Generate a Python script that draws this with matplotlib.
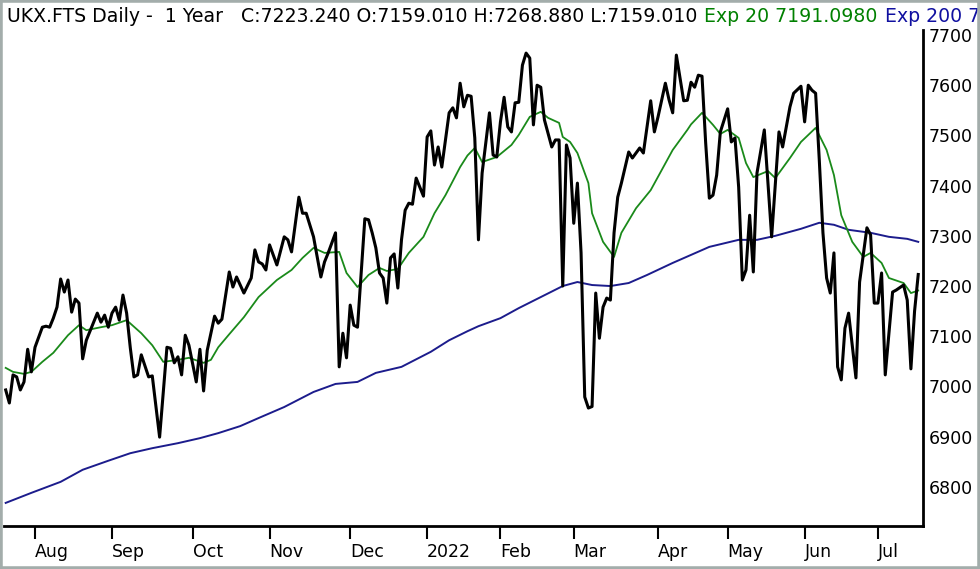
import matplotlib
matplotlib.use("Agg")
import matplotlib.pyplot as plt
from matplotlib.patches import Rectangle
import numpy as np
import pandas as pd

# trading calendar (LSE), first and last session shown
start_date = "2021-07-21"
end_date = "2022-07-18"
holidays = ["2021-08-30", "2021-12-27", "2021-12-28", "2022-01-03", "2022-04-15",
            "2022-04-18", "2022-05-02", "2022-06-02", "2022-06-03"]

# UKX daily close (session index, value)
price_day = [0, 1, 2, 3, 4, 5, 6, 7, 8, 10, 11, 12, 13, 14, 15, 16, 17, 18, 19, 20,
             21, 22, 25, 26, 27, 28, 29, 30, 31, 32, 33, 34, 35, 36, 37, 39, 40, 42, 44, 45,
             46, 47, 48, 49, 50, 52, 53, 54, 55, 57, 58, 59, 61, 62, 63, 65, 67, 68, 69, 70,
             71, 72, 74, 76, 77, 78, 80, 81, 82, 84, 86, 87, 88, 90, 91, 92, 93, 94, 95, 96,
             98, 99, 100, 101, 102, 103, 104, 105, 106, 107, 108, 109, 110, 111, 112, 114, 115, 116, 117, 118,
             119, 121, 122, 123, 124, 125, 126, 127, 128, 129, 130, 132, 133, 134, 135, 136, 137, 138, 139, 140,
             141, 142, 143, 144, 145, 146, 147, 149, 150, 151, 152, 153, 154, 155, 156, 157, 158, 159, 160, 161,
             162, 163, 164, 165, 166, 167, 168, 170, 171, 172, 173, 174, 176, 177, 178, 180, 181, 182, 183, 185,
             186, 187, 188, 189, 190, 191, 192, 193, 194, 195, 197, 198, 199, 200, 201, 202, 203, 204, 205, 207,
             209, 211, 212, 214, 215, 217, 218, 219, 220, 221, 222, 223, 224, 225, 226, 227, 228, 229, 230, 232,
             233, 235, 236, 237, 238, 239, 240, 242, 243, 245, 246, 247, 248, 249]
price_close = [6993, 6967, 7023, 7019, 6993, 7009, 7074, 7029, 7078, 7118, 7120, 7118, 7136, 7158, 7214, 7188, 7212, 7148, 7174, 7166,
               7055, 7092, 7146, 7128, 7142, 7118, 7146, 7158, 7132, 7182, 7146, 7077, 7019, 7023, 7063, 7019, 7021, 6899, 7078, 7076,
               7047, 7059, 7023, 7102, 7082, 7009, 7074, 6991, 7072, 7140, 7126, 7134, 7228, 7198, 7218, 7186, 7216, 7272, 7248, 7244,
               7232, 7282, 7242, 7298, 7292, 7268, 7377, 7345, 7345, 7298, 7218, 7248, 7266, 7306, 7039, 7106, 7057, 7162, 7122, 7118,
               7334, 7332, 7306, 7276, 7226, 7216, 7166, 7256, 7264, 7196, 7292, 7351, 7365, 7363, 7415, 7379, 7497, 7509, 7441, 7477,
               7437, 7545, 7555, 7535, 7604, 7557, 7580, 7578, 7495, 7292, 7425, 7545, 7461, 7457, 7527, 7576, 7517, 7507, 7565, 7566,
               7640, 7664, 7654, 7521, 7600, 7596, 7531, 7477, 7491, 7491, 7200, 7481, 7455, 7325, 7405, 7266, 6979, 6957, 6960, 7186,
               7096, 7158, 7176, 7172, 7306, 7377, 7405, 7467, 7455, 7465, 7475, 7465, 7569, 7507, 7537, 7604, 7571, 7545, 7660, 7569,
               7570, 7606, 7596, 7620, 7618, 7485, 7375, 7381, 7421, 7507, 7553, 7487, 7495, 7397, 7212, 7232, 7341, 7228, 7425, 7511,
               7298, 7507, 7477, 7557, 7584, 7598, 7527, 7600, 7590, 7584, 7451, 7306, 7216, 7186, 7266, 7039, 7013, 7116, 7146, 7017,
               7208, 7316, 7302, 7166, 7166, 7226, 7023, 7188, 7192, 7202, 7172, 7035, 7150, 7223]

# Exp 20
ema20_day = [0, 2, 5, 7, 10, 13, 17, 20, 22, 26, 29, 33, 37, 40, 43, 47, 50, 54, 56, 58,
             61, 65, 69, 74, 78, 81, 84, 87, 91, 93, 96, 99, 102, 104, 107, 110, 114, 117, 120, 124,
             126, 128, 130, 134, 138, 140, 143, 146, 148, 151, 152, 154, 156, 159, 160, 163, 166, 168, 172, 176,
             179, 182, 186, 187, 190, 193, 195, 197, 200, 202, 204, 208, 210, 214, 217, 221, 224, 226, 228, 231,
             234, 236, 239, 241, 245, 247, 249]
ema20_val = [7037, 7029, 7025, 7029, 7049, 7067, 7102, 7122, 7112, 7118, 7122, 7132, 7106, 7082, 7049, 7053, 7057, 7047, 7053, 7078,
             7104, 7138, 7178, 7212, 7232, 7256, 7276, 7266, 7268, 7226, 7198, 7222, 7236, 7230, 7234, 7266, 7298, 7345, 7381, 7437,
             7460, 7475, 7447, 7457, 7481, 7501, 7537, 7547, 7535, 7525, 7497, 7487, 7465, 7405, 7345, 7288, 7258, 7306, 7355, 7391,
             7431, 7471, 7511, 7522, 7545, 7521, 7503, 7511, 7495, 7445, 7417, 7429, 7415, 7455, 7487, 7515, 7471, 7421, 7341, 7288,
             7258, 7266, 7246, 7216, 7206, 7186, 7191]

# Exp 200
ema200_day = [0, 7, 15, 21, 28, 34, 40, 47, 53, 58, 64, 69, 76, 84, 90, 96, 101, 108, 116, 121,
              126, 129, 135, 140, 146, 152, 156, 160, 165, 170, 175, 182, 187, 192, 200, 205, 210, 217, 222, 226,
              230, 236, 241, 246, 249]
ema200_val = [6768, 6788, 6810, 6834, 6852, 6867, 6877, 6887, 6897, 6907, 6921, 6937, 6959, 6989, 7005, 7009, 7027, 7039, 7069, 7092,
              7110, 7120, 7136, 7156, 7178, 7200, 7208, 7202, 7200, 7206, 7222, 7246, 7262, 7278, 7292, 7292, 7300, 7314, 7326, 7322,
              7312, 7306, 7298, 7294, 7288]

y_ticks = [6800, 6900, 7000, 7100, 7200, 7300, 7400, 7500, 7600, 7700]
header_parts = [("UKX.FTS Daily -  1 Year   C:7223.240 O:7159.010 H:7268.880 L:7159.010", "black"),
                ("Exp 20 7191.0980", "#008000"),
                ("Exp 200 7", "#1010a0")]

dates = pd.bdate_range(start_date, end_date)
dates = dates[~dates.isin(pd.to_datetime(holidays))]

# first session of each month -> tick
tick_pos, tick_lab = [], []
for i in range(1, len(dates)):
    if dates[i].month != dates[i - 1].month:
        tick_pos.append(i)
        tick_lab.append("2022" if dates[i].month == 1 else dates[i].strftime("%b"))

W, H = 980, 569
fig = plt.figure(figsize=(W / 100, H / 100), dpi=100)
ax = fig.add_axes([4 / W, 43 / H, 919 / W, 496 / H])

ax.plot(ema200_day, ema200_val, color="#1c1c8c", lw=1.4)
ax.plot(ema20_day, ema20_val, color="#1a8a1a", lw=1.3)
ax.plot(price_day, price_close, color="black", lw=2.2)

ax.set_xlim(-0.46, 250.3)
ax.set_ylim(6722, 7710)

for s in ["left", "top"]:
    ax.spines[s].set_visible(False)
for s in ["right", "bottom"]:
    ax.spines[s].set_linewidth(2)

ax.yaxis.tick_right()
ax.set_yticks(y_ticks)
ax.tick_params(axis="y", length=0, pad=4, labelsize=12.5)
ax.set_xticks(tick_pos)
ax.set_xticklabels(tick_lab, ha="left")
ax.tick_params(axis="x", direction="out", length=9, width=1.5, pad=3, labelsize=12.5)

fig.canvas.draw()
r = fig.canvas.get_renderer()
x = 7
for txt, col in header_parts:
    t = fig.text(x / W, 1 - 17 / H, txt, color=col, fontsize=13.6, va="center", ha="left")
    bb = t.get_window_extent(renderer=r)
    x = bb.x1 + 7

fig.patches.append(Rectangle((0, 0), 1, 1, transform=fig.transFigure, fill=False,
                             edgecolor="#a3adab", linewidth=4, zorder=10))

fig.savefig("out.png", dpi=100, facecolor="white")
